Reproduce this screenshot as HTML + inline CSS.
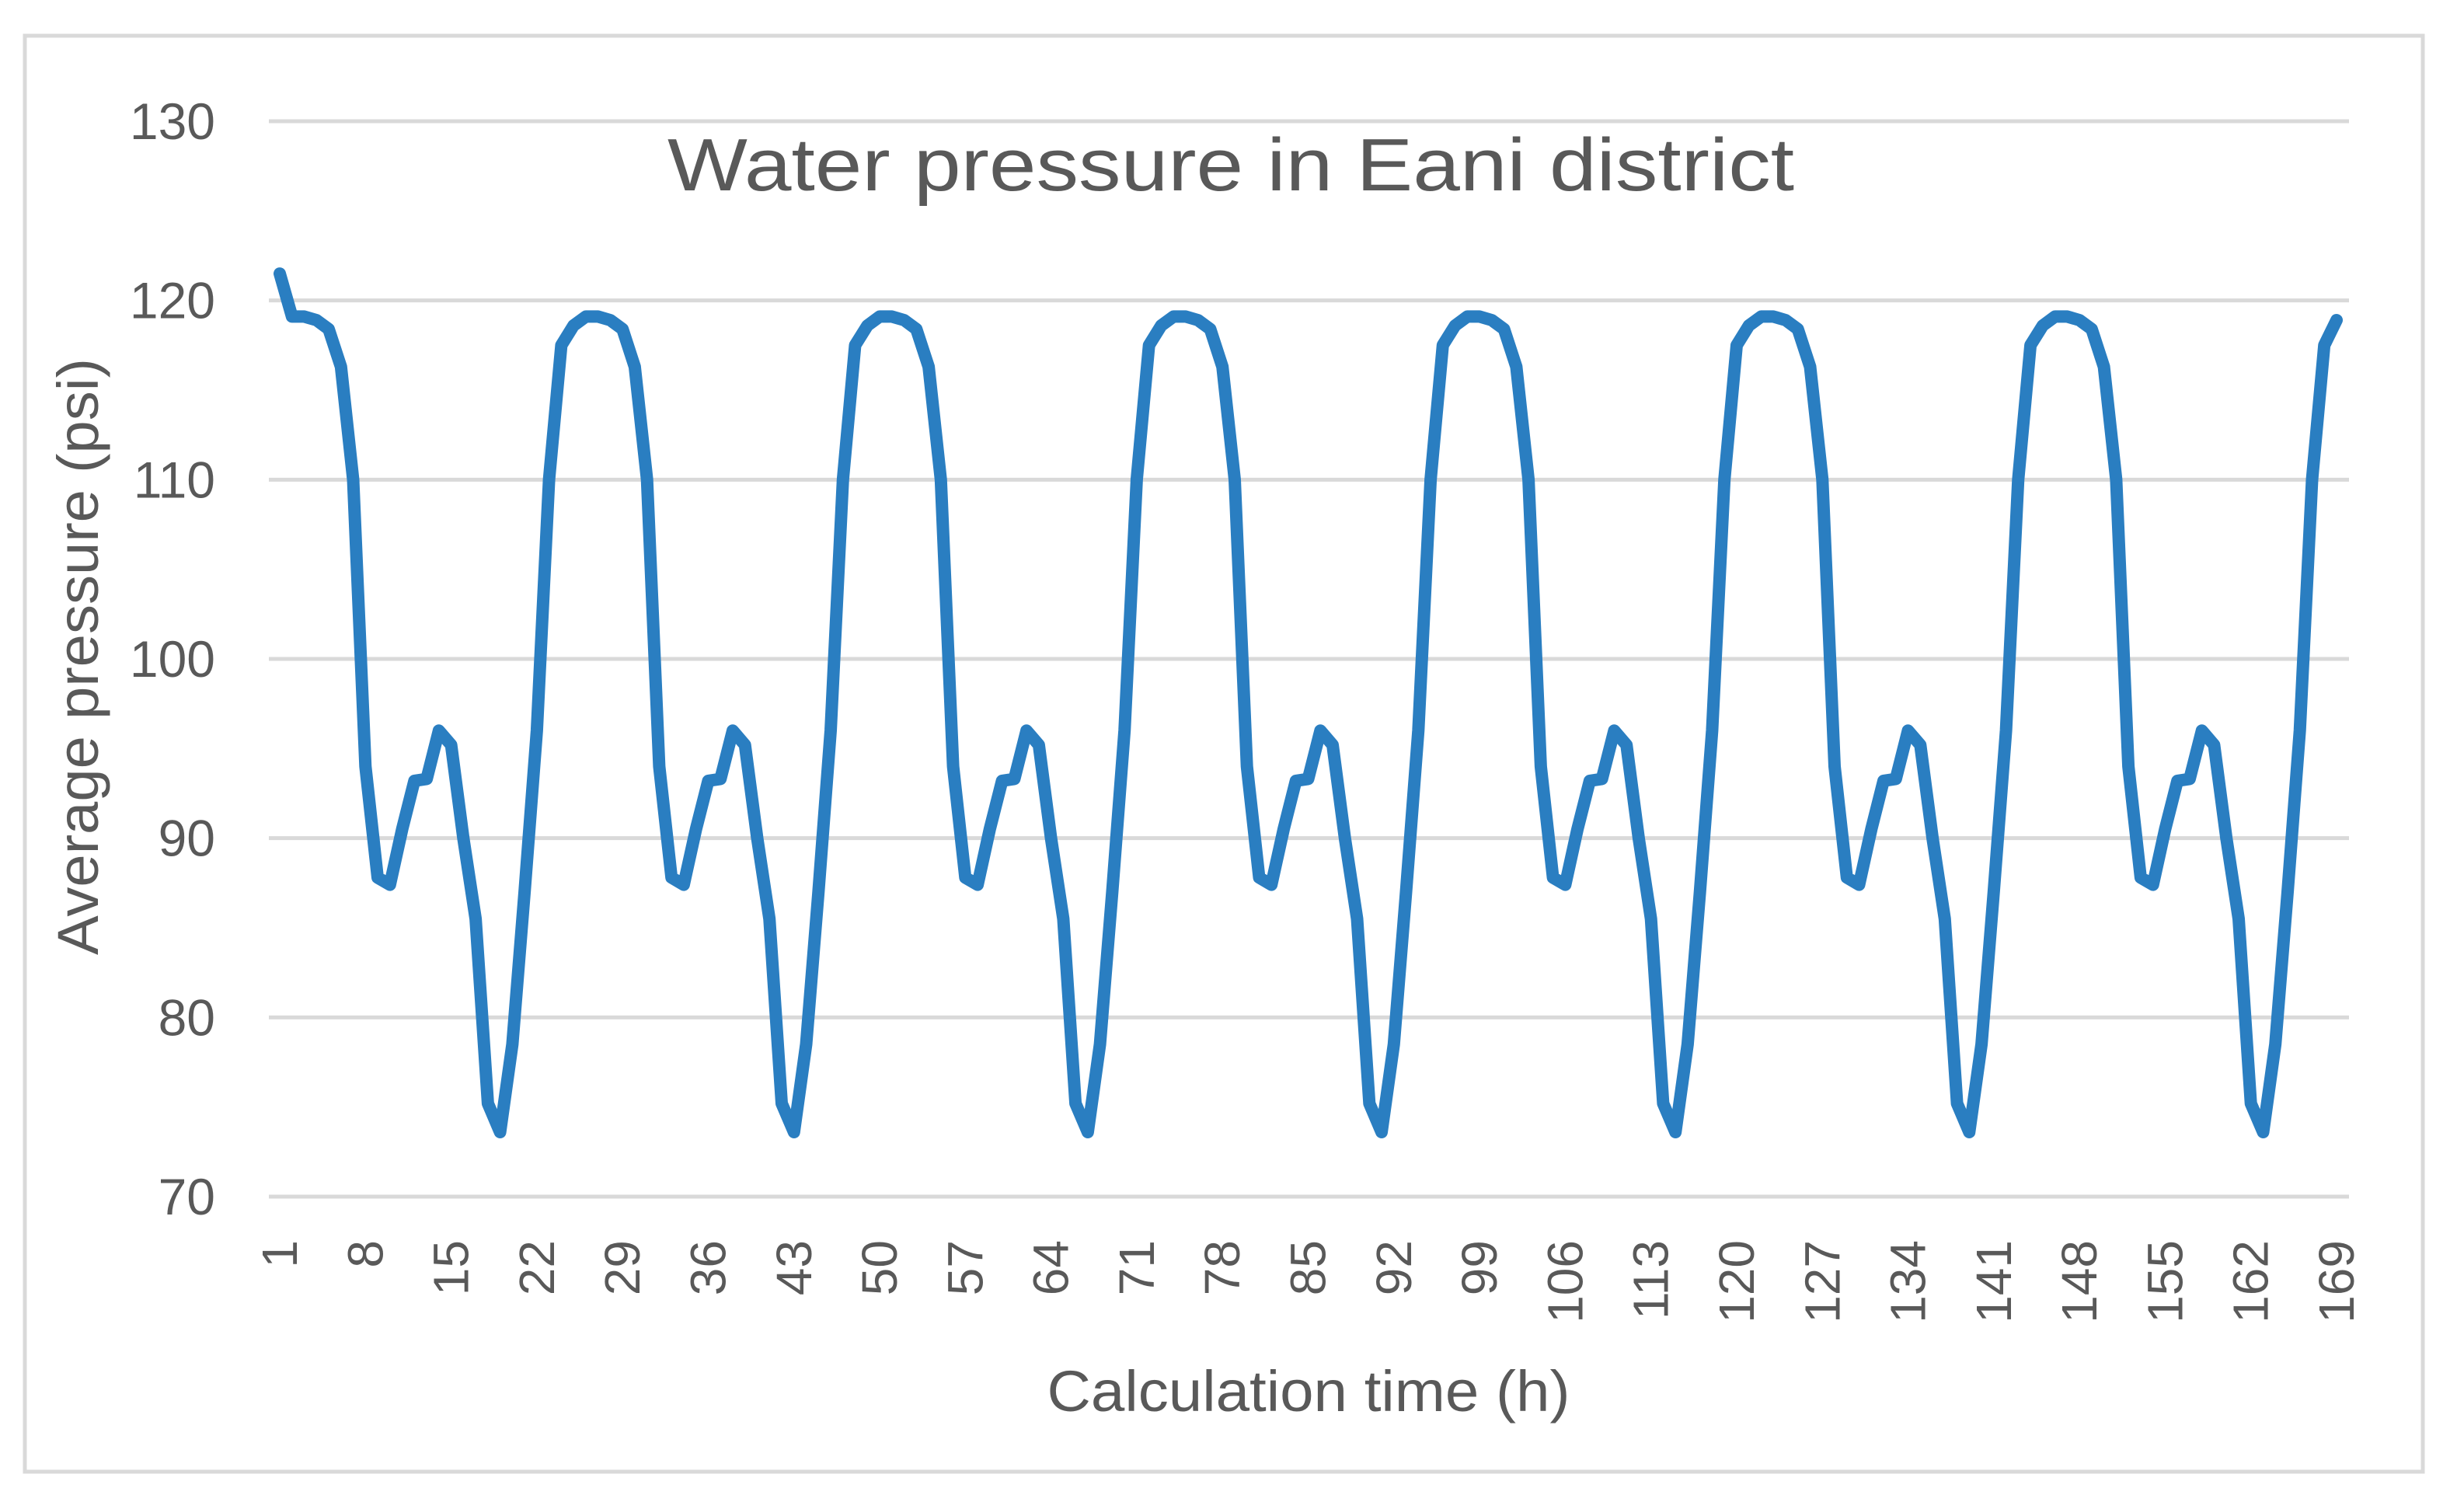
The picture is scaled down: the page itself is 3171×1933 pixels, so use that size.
<!DOCTYPE html>
<html><head><meta charset="utf-8"><style>
html,body{margin:0;padding:0;background:#fff;}
svg{display:block;}
text{font-family:"Liberation Sans",sans-serif;fill:#595959;}
</style></head><body>
<svg id="chart" width="3171" height="1933" viewBox="0 0 3171 1933">
<rect x="32" y="46" width="3086" height="1848" fill="#fff" stroke="#d9d9d9" stroke-width="5"/>
<text x="1584" y="245" font-size="96" text-anchor="middle" textLength="1450" lengthAdjust="spacingAndGlyphs">Water pressure in Eani district</text>
<text transform="translate(126,845) rotate(-90)" font-size="74" text-anchor="middle" textLength="768" lengthAdjust="spacingAndGlyphs">Average pressure (psi)</text>
<text x="1684" y="1816" font-size="74" text-anchor="middle" textLength="673" lengthAdjust="spacingAndGlyphs">Calculation time (h)</text>
<g id="grid"></g><g id="yticks"></g><g id="xticks"></g><g id="series"></g>
</svg>
<script>
const yTicks = [70, 80, 90, 100, 110, 120, 130];
const xLabels = [1,8,15,22,29,36,43,50,57,64,71,78,85,92,99,106,113,120,127,134,141,148,155,162,169];
const pressure = [121.5,
119.1,119.1,118.9,118.4,116.3,110,94,87.8,87.4,90.5,93.2,93.3,96,95.2,90,85.5,75.2,73.6,78.5,87,96,110,117.5,118.6,
119.1,119.1,118.9,118.4,116.3,110,94,87.8,87.4,90.5,93.2,93.3,96,95.2,90,85.5,75.2,73.6,78.5,87,96,110,117.5,118.6,
119.1,119.1,118.9,118.4,116.3,110,94,87.8,87.4,90.5,93.2,93.3,96,95.2,90,85.5,75.2,73.6,78.5,87,96,110,117.5,118.6,
119.1,119.1,118.9,118.4,116.3,110,94,87.8,87.4,90.5,93.2,93.3,96,95.2,90,85.5,75.2,73.6,78.5,87,96,110,117.5,118.6,
119.1,119.1,118.9,118.4,116.3,110,94,87.8,87.4,90.5,93.2,93.3,96,95.2,90,85.5,75.2,73.6,78.5,87,96,110,117.5,118.6,
119.1,119.1,118.9,118.4,116.3,110,94,87.8,87.4,90.5,93.2,93.3,96,95.2,90,85.5,75.2,73.6,78.5,87,96,110,117.5,118.6,
119.1,119.1,118.9,118.4,116.3,110,94,87.8,87.4,90.5,93.2,93.3,96,95.2,90,85.5,75.2,73.6,78.5,87,96,110,117.5,118.9];

const NS = "http://www.w3.org/2000/svg";
const X0 = 360, X1 = 3007, Y70 = 1540, Y130 = 156;
function xs(h){ return X0 + (h - 1) * (X1 - X0) / 168; }
function ys(v){ return Y70 - (v - 70) * (Y70 - Y130) / 60; }

const grid = document.getElementById('grid');
const yt = document.getElementById('yticks');
yTicks.forEach(v => {
  const l = document.createElementNS(NS, 'line');
  l.setAttribute('x1', 346); l.setAttribute('x2', 3023);
  l.setAttribute('y1', ys(v)); l.setAttribute('y2', ys(v));
  l.setAttribute('stroke', '#d9d9d9'); l.setAttribute('stroke-width', 5);
  
  
  grid.appendChild(l);
  const t = document.createElementNS(NS, 'text');
  t.setAttribute('x', 277); t.setAttribute('y', ys(v) + 23);
  t.setAttribute('font-size', 66); t.setAttribute('text-anchor', 'end');
  t.textContent = v;
  
  
  yt.appendChild(t);
});
const xt = document.getElementById('xticks');
xLabels.forEach(h => {
  const t = document.createElementNS(NS, 'text');
  const x = xs(h) + 22, y = 1596;
  t.setAttribute('transform', 'translate(' + x + ',' + y + ') rotate(-90)');
  t.setAttribute('font-size', 64); t.setAttribute('text-anchor', 'end');
  t.textContent = h;
  
  
  xt.appendChild(t);
});
const pts = pressure.map((v, i) => xs(i + 1).toFixed(1) + ',' + ys(v).toFixed(1)).join(' ');
const pl = document.createElementNS(NS, 'polyline');
pl.setAttribute('points', pts);
pl.setAttribute('fill', 'none');
pl.setAttribute('stroke', '#2a7ec1');
pl.setAttribute('stroke-width', 16);
pl.setAttribute('stroke-linejoin', 'round');
pl.setAttribute('stroke-linecap', 'round');


document.getElementById('series').appendChild(pl);
</script>
</body></html>
